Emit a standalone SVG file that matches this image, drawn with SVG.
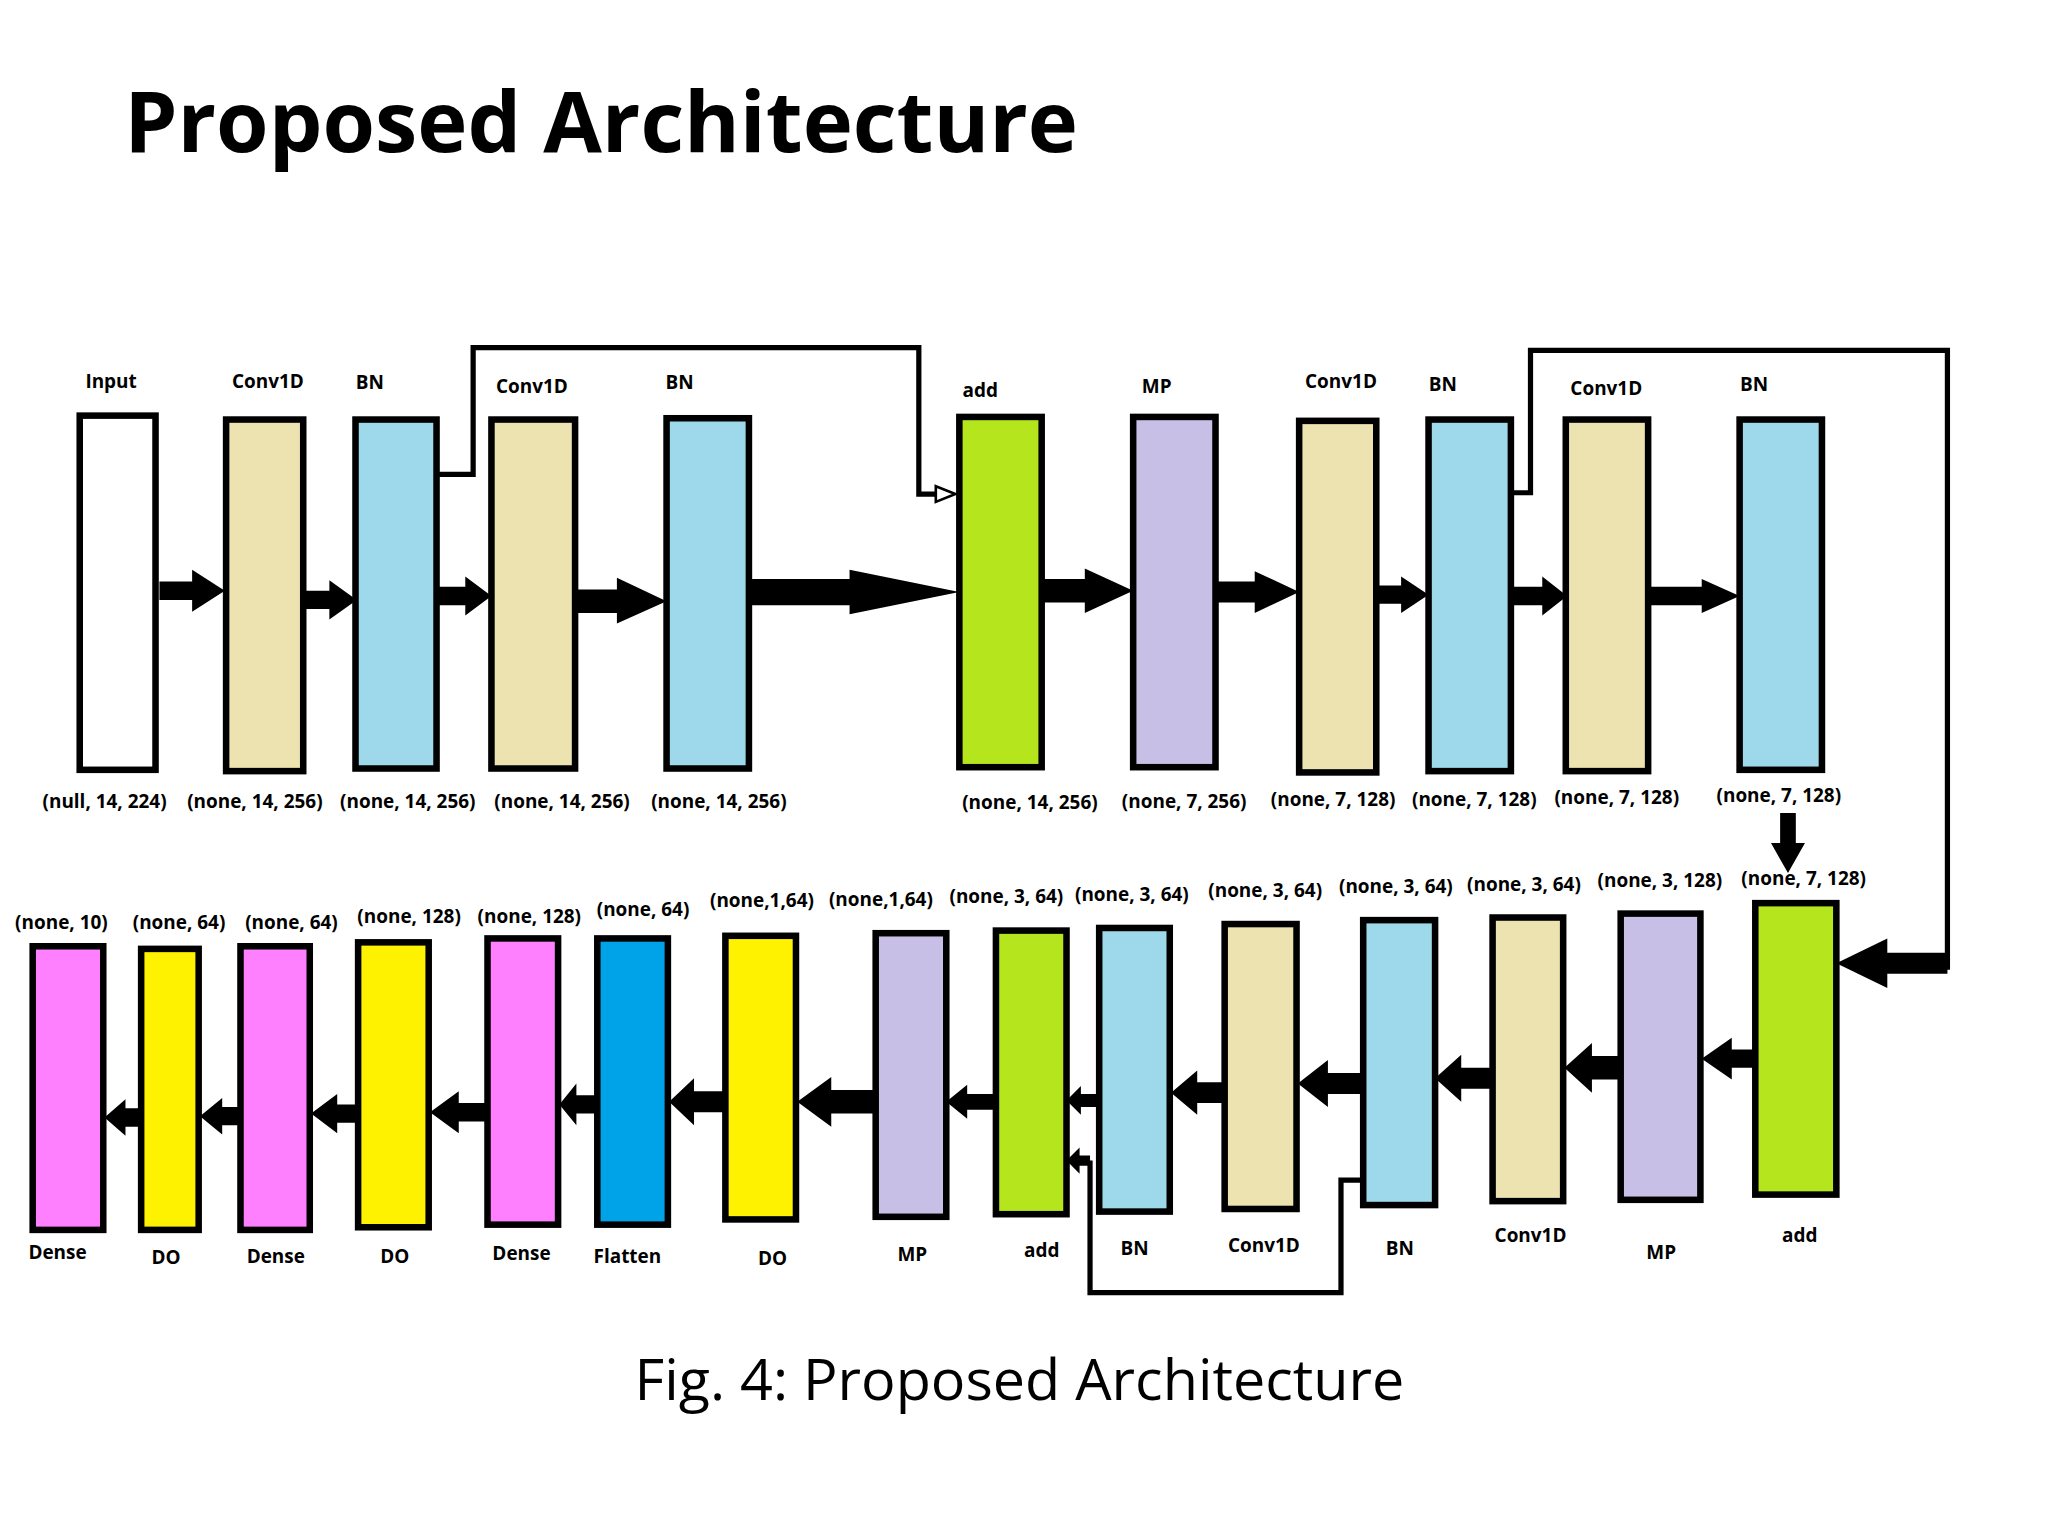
<svg xmlns="http://www.w3.org/2000/svg" width="2048" height="1536" viewBox="0 0 2048 1536">
<style>
.b{stroke:#000;stroke-width:5}
.w{fill:#fff}.c{fill:#EDE3B0}.n{fill:#9DD9EA}.a{fill:#B5E61D}.m{fill:#C8BFE7}.d{fill:#FF80FF}.o{fill:#FFF200}.f{fill:#00A2E8}
text{font-family:"Open Sans","Liberation Sans",sans-serif;font-weight:700;font-size:14.5px;fill:#000;text-anchor:middle}
.ln{fill:none;stroke:#000;stroke-width:4}
.ar{fill:#000}
</style>
<rect width="2048" height="1536" fill="#fff"/>
<g transform="scale(1.307)">
<text x="95" y="116" style="font-size:65px;text-anchor:start">Proposed Architecture</text>
<text x="780" y="1071" style="font-size:44px;font-weight:400">Fig. 4: Proposed Architecture</text>
<g id="top-row">
<g id="n1"><rect class="b w" x="61" y="318" width="58" height="271"/><text x="85" y="297">Input</text><text x="80" y="618">(null, 14, 224)</text></g>
<g id="n2"><rect class="b c" x="173" y="321" width="59" height="269"/><text x="205" y="297">Conv1D</text><text x="195" y="618">(none, 14, 256)</text></g>
<g id="n3"><rect class="b n" x="272" y="321" width="62" height="267"/><text x="283" y="298">BN</text><text x="312" y="618">(none, 14, 256)</text></g>
<g id="n4"><rect class="b c" x="376" y="321" width="64" height="267"/><text x="407" y="301">Conv1D</text><text x="430" y="618">(none, 14, 256)</text></g>
<g id="n5"><rect class="b n" x="510" y="320" width="63" height="268"/><text x="520" y="298">BN</text><text x="550" y="618">(none, 14, 256)</text></g>
<g id="n6"><rect class="b a" x="734" y="319" width="63" height="268"/><text x="750" y="304">add</text><text x="788" y="619">(none, 14, 256)</text></g>
<g id="n7"><rect class="b m" x="867" y="319" width="63" height="268"/><text x="885" y="301">MP</text><text x="906" y="618">(none, 7, 256)</text></g>
<g id="n8"><rect class="b c" x="994" y="322" width="59" height="269"/><text x="1026" y="297">Conv1D</text><text x="1020" y="617">(none, 7, 128)</text></g>
<g id="n9"><rect class="b n" x="1093" y="321" width="63" height="269"/><text x="1104" y="299">BN</text><text x="1128" y="617">(none, 7, 128)</text></g>
<g id="n10"><rect class="b c" x="1198" y="321" width="63" height="269"/><text x="1229" y="302">Conv1D</text><text x="1237" y="615">(none, 7, 128)</text></g>
<g id="n11"><rect class="b n" x="1331" y="321" width="63" height="268"/><text x="1342" y="299">BN</text><text x="1361" y="614">(none, 7, 128)</text></g>
</g>
<g id="bottom-row">
<g id="n12"><rect class="b a" x="1343" y="691" width="62" height="223"/><text x="1377" y="950">add</text><text x="1380" y="677">(none, 7, 128)</text></g>
<g id="n13"><rect class="b m" x="1240" y="699" width="61" height="219"/><text x="1271" y="963">MP</text><text x="1270" y="679">(none, 3, 128)</text></g>
<g id="n14"><rect class="b c" x="1142" y="702" width="54" height="217"/><text x="1171" y="950">Conv1D</text><text x="1166" y="682">(none, 3, 64)</text></g>
<g id="n15"><rect class="b n" x="1043" y="704" width="55" height="218"/><text x="1071" y="960">BN</text><text x="1068" y="683">(none, 3, 64)</text></g>
<g id="n16"><rect class="b c" x="937" y="707" width="55" height="218"/><text x="967" y="958">Conv1D</text><text x="968" y="686">(none, 3, 64)</text></g>
<g id="n17"><rect class="b n" x="841" y="710" width="54" height="217"/><text x="868" y="960">BN</text><text x="866" y="689">(none, 3, 64)</text></g>
<g id="n18"><rect class="b a" x="762" y="712" width="54" height="217"/><text x="797" y="962">add</text><text x="770" y="691">(none, 3, 64)</text></g>
<g id="n19"><rect class="b m" x="670" y="714" width="54" height="217"/><text x="698" y="965">MP</text><text x="674" y="693">(none,1,64)</text></g>
<g id="n20"><rect class="b o" x="555" y="716" width="54" height="217"/><text x="591" y="968">DO</text><text x="583" y="694">(none,1,64)</text></g>
<g id="n21"><rect class="b f" x="457" y="718" width="54" height="219"/><text x="480" y="966">Flatten</text><text x="492" y="701">(none, 64)</text></g>
<g id="n22"><rect class="b d" x="373" y="718" width="54" height="219"/><text x="399" y="964">Dense</text><text x="405" y="706">(none, 128)</text></g>
<g id="n23"><rect class="b o" x="274" y="721" width="54" height="218"/><text x="302" y="966">DO</text><text x="313" y="706">(none, 128)</text></g>
<g id="n24"><rect class="b d" x="184" y="724" width="53" height="217"/><text x="211" y="966">Dense</text><text x="223" y="711">(none, 64)</text></g>
<g id="n25"><rect class="b o" x="108" y="726" width="44" height="215"/><text x="127" y="967">DO</text><text x="137" y="711">(none, 64)</text></g>
<g id="n26"><rect class="b d" x="25" y="724" width="54" height="217"/><text x="44" y="963">Dense</text><text x="47" y="711">(none, 10)</text></g>
</g>
<g id="connectors">
<path class="ln" d="M334,363 H362 V266 H703 V378 H716"/>
<path d="M716,372 L731,378 L716,384 Z" fill="#fff" stroke="#000" stroke-width="2"/>
<path class="ln" d="M1156,377 H1171 V268 H1490 V742"/>
<path class="ln" d="M834,888 V989 H1026 V903 H1043"/>
<g class="ar">
<path d="M122,445 H147 V436 L172,452 L147,468 V459 H122 Z"/>
<path d="M232,452 H252 V444 L273,459 L252,474 V466 H232 Z"/>
<path d="M334,449 H356 V441 L376,456 L356,471 V463 H334 Z"/>
<path d="M440,451 H472 V442 L510,460 L472,477 V469 H440 Z"/>
<path d="M573,443 H650 V436 L734,453 L650,470 V463 H573 Z"/>
<path d="M797,443 H830 V435 L867,452 L830,469 V461 H797 Z"/>
<path d="M930,445 H960 V437 L994,453 L960,469 V461 H930 Z"/>
<path d="M1053,448 H1072 V441 L1093,455 L1072,469 V462 H1053 Z"/>
<path d="M1156,449 H1180 V441 L1199,456 L1180,471 V463 H1156 Z"/>
<path d="M1261,449 H1302 V443 L1331,456 L1302,469 V463 H1261 Z"/>
<path d="M1362,622 H1374 V645 H1381 L1368,668 L1355,645 H1362 Z"/>
<path d="M1490,729 H1444 V718 L1405,737 L1444,756 V745 H1490 Z"/>
<path d="M1343,803 H1325 V794 L1302,810 L1325,826 V817 H1343 Z"/>
<path d="M1240,808 H1218 V798 L1197,817 L1218,836 V826 H1240 Z"/>
<path d="M1142,817 H1118 V807 L1098,825 L1118,843 V833 H1142 Z"/>
<path d="M1043,821 H1016 V811 L993,829 L1016,847 V837 H1043 Z"/>
<path d="M937,828 H916 V819 L896,836 L916,853 V844 H937 Z"/>
<path d="M841,837 H827 V831 L816,842 L827,853 V847 H841 Z"/>
<path d="M834,884 H826 V878 L816,888 L826,898 V892 H834 Z"/>
<path d="M762,837 H740 V830 L724,843 L740,856 V849 H762 Z"/>
<path d="M670,834 H636 V824 L610,843 L636,862 V852 H670 Z"/>
<path d="M555,835 H531 V825 L512,843 L531,861 V851 H555 Z"/>
<path d="M457,838 H441 V829 L428,845 L441,861 V852 H457 Z"/>
<path d="M373,844 H351 V835 L329,851 L351,867 V858 H373 Z"/>
<path d="M274,845 H258 V837 L238,852 L258,867 V859 H274 Z"/>
<path d="M184,847 H170 V840 L153,854 L170,868 V861 H184 Z"/>
<path d="M108,848 H96 V841 L80,855 L96,869 V862 H108 Z"/>
</g>
</g>
</g>
</svg>
